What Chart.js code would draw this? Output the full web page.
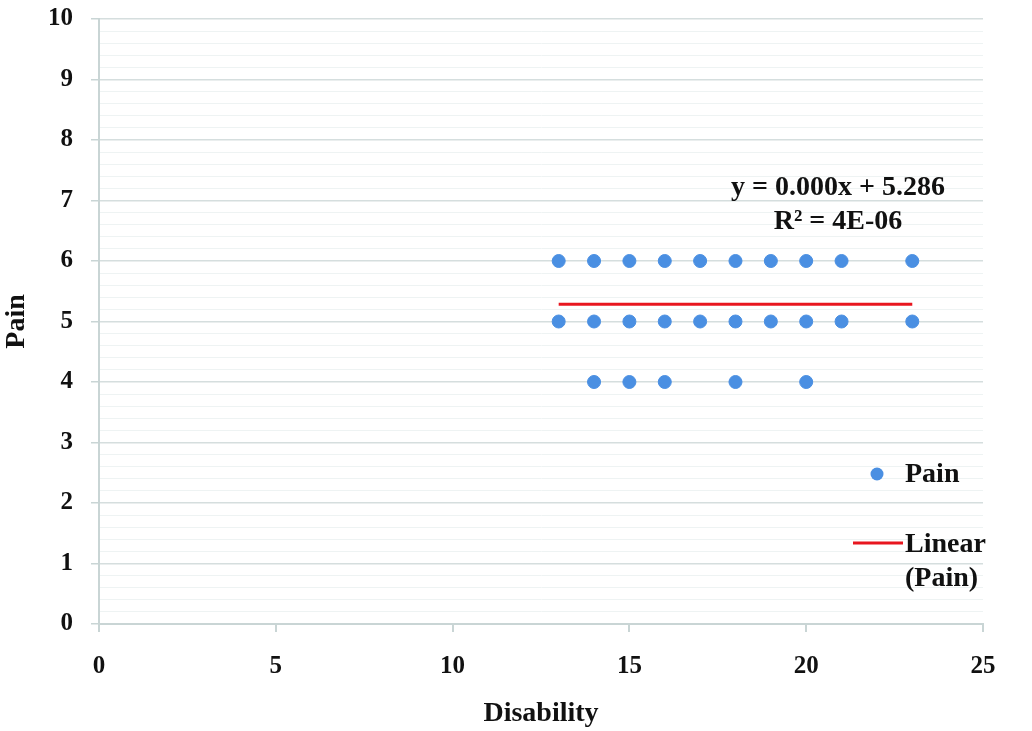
<!DOCTYPE html>
<html>
<head>
<meta charset="utf-8"/>
<style>
  html,body{margin:0;padding:0;background:#fff;}
  .wrap{width:1032px;height:731px;}
</style>
</head>
<body>
<div class="wrap"><canvas id="c" width="1032" height="731"></canvas></div>
<script src="https://cdn.jsdelivr.net/npm/chart.js@4.4.0/dist/chart.umd.min.js"></script>
<script>
// Disability (x) vs Pain (y)
const painX = [13,14,15,16,17,18,19,20,21,23, 13,14,15,16,17,18,19,20,21,23, 14,15,16,18,20];
const painY = [ 6, 6, 6, 6, 6, 6, 6, 6, 6, 6,  5, 5, 5, 5, 5, 5, 5, 5, 5, 5,  4, 4, 4, 4, 4];
const trendX = [13, 23];
const trendY = [5.286, 5.286];
const eqLines = ["y = 0.000x + 5.286", "R\u00B2 = 4E-06"];
const xTicks = [0,5,10,15,20,25];

const FONT = "'Liberation Serif','Times New Roman',serif";
const BLUE = "#4a8fe2";
const RED  = "#e8161f";
const isMajor = v => Math.abs(v - Math.round(v)) < 1e-6;

const overlay = {
  id: "overlay",
  afterDatasetsDraw(chart) {
    const { ctx, scales: { x, y } } = chart;
    ctx.save();
    ctx.fillStyle = "#111";
    ctx.font = "bold 28px " + FONT;
    ctx.textAlign = "center"; ctx.textBaseline = "middle";
    ctx.fillText(eqLines[0], x.getPixelForValue(20.9), y.getPixelForValue(7.21));
    ctx.fillText(eqLines[1], x.getPixelForValue(20.9), y.getPixelForValue(6.65));

    // legend
    const ds = chart.data.datasets;
    ctx.textAlign = "left";
    ctx.beginPath();
    ctx.arc(877, 474, 6.5, 0, Math.PI * 2);
    ctx.fillStyle = BLUE; ctx.fill();
    ctx.fillStyle = "#111";
    ctx.fillText(ds[0].label, 905, 475);
    ctx.strokeStyle = RED; ctx.lineWidth = 3;
    ctx.beginPath(); ctx.moveTo(853, 543); ctx.lineTo(903, 543); ctx.stroke();
    const parts = ds[1].label.split(" ");
    ctx.fillText(parts[0], 905, 545);
    ctx.fillText(parts[1], 905, 579);
    ctx.restore();
  }
};

new Chart(document.getElementById("c"), {
  type: "scatter",
  data: {
    datasets: [
      {
        label: "Pain",
        data: painX.map((v, i) => ({ x: v, y: painY[i] })),
        backgroundColor: BLUE, borderColor: BLUE,
        pointRadius: 6.5, pointHoverRadius: 6.5
      },
      {
        label: "Linear (Pain)",
        type: "line",
        data: trendX.map((v, i) => ({ x: v, y: trendY[i] })),
        borderColor: RED, borderWidth: 3, pointRadius: 0, fill: false
      }
    ]
  },
  plugins: [overlay],
  options: {
    responsive: false, animation: false,
    layout: { padding: { left: 0, right: 49, top: 19, bottom: 0 } },
    plugins: { legend: { display: false }, tooltip: { enabled: false } },
    scales: {
      x: {
        type: "linear", min: 0, max: 25,
        afterBuildTicks: s => { s.ticks = xTicks.map(v => ({ value: v })); },
        afterFit: s => { s.height = 107; s.paddingLeft = 0; s.paddingRight = 0; },
        border: { color: "#c9d5d5", width: 2 },
        grid: { drawOnChartArea: false, color: "#c9d5d5", lineWidth: 2, tickLength: 8 },
        ticks: { color: "#111", font: { family: FONT, size: 25, weight: "bold" }, padding: 20 },
        title: { display: true, text: "Disability", color: "#111",
                 font: { family: FONT, size: 28, weight: "bold" }, padding: { top: 8, bottom: 0 } }
      },
      y: {
        min: 0, max: 10,
        ticks: {
          stepSize: 0.2, autoSkip: false,
          color: "#111", font: { family: FONT, size: 25, weight: "bold" }, padding: 18,
          callback: v => isMajor(v) ? String(Math.round(v)) : ""
        },
        afterFit: s => { s.width = 99; s.paddingTop = 0; s.paddingBottom = 0; },
        border: { color: "#c9d5d5", width: 2 },
        grid: {
          tickLength: 8,
          color: c => isMajor(c.tick.value) ? "#d5dede" : "#eef3f3",
          lineWidth: c => isMajor(c.tick.value) ? 1.5 : 1,
          tickColor: c => isMajor(c.tick.value) ? "#c9d5d5" : "rgba(0,0,0,0)"
        },
        title: { display: true, text: "Pain", color: "#111",
                 font: { family: FONT, size: 28, weight: "bold" }, padding: { top: 0, bottom: 0 } }
      }
    }
  }
});
</script>
</body>
</html>
